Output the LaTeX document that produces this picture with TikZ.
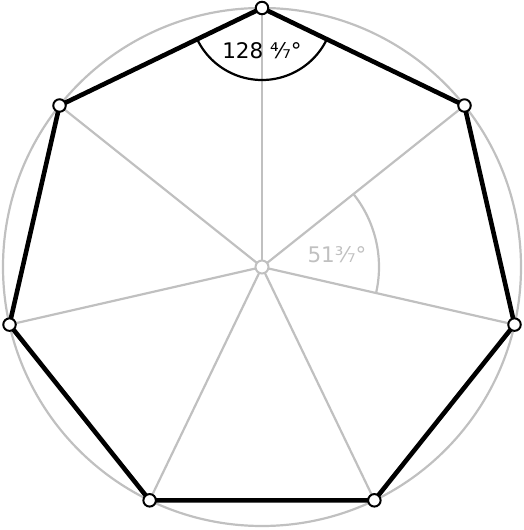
\documentclass[tikz,border=0pt]{standalone}
\usepackage{fontspec}
\setmainfont{DejaVu Sans}
\usetikzlibrary{calc}
\definecolor{lgray}{HTML}{C0C0C0}
\begin{document}
\begin{tikzpicture}[x=1pt,y=1pt,
  spoke/.style={draw=lgray,line width=2.2pt},
  edge/.style={draw=black,line width=4.6pt,line join=round},
  vdot/.style={circle,draw=black,fill=white,line width=2pt,inner sep=0pt,minimum size=12.5pt},
  cdot/.style={circle,draw=lgray,fill=white,line width=2pt,inner sep=0pt,minimum size=13pt},
  lab/.style={font=\fontsize{21.5}{25}\selectfont,inner sep=0pt}]
\useasboundingbox (0,0) rectangle (524,530);
\coordinate (c) at (262,263);
\foreach \k in {0,...,6}{
  \coordinate (v\k) at ($(c)+({90-\k*360/7}:259)$);
}
\draw[spoke] (c) circle (259);
\foreach \k in {0,...,6}{\draw[spoke] (c) -- (v\k);}
% central angle arc
\draw[spoke] ($(c)+(-12.857:117)$) arc (-12.857:38.571:117);
\node[lab,text=lgray] (a51) at (337,275) {51³⁄₇°};
% interior angle arc
\draw[black,line width=2.2pt] ($(v0)+(205.714:72)$) arc (205.714:334.286:72);
\node[lab] (a128) at (262,479) {128 ⁴⁄₇°};
\draw[edge] (v0) -- (v1) -- (v2) -- (v3) -- (v4) -- (v5) -- (v6) -- cycle;
\foreach \k in {0,...,6}{\node[vdot] (n\k) at (v\k) {};}
\node[cdot] (nc) at (c) {};
\end{tikzpicture}
\end{document}
